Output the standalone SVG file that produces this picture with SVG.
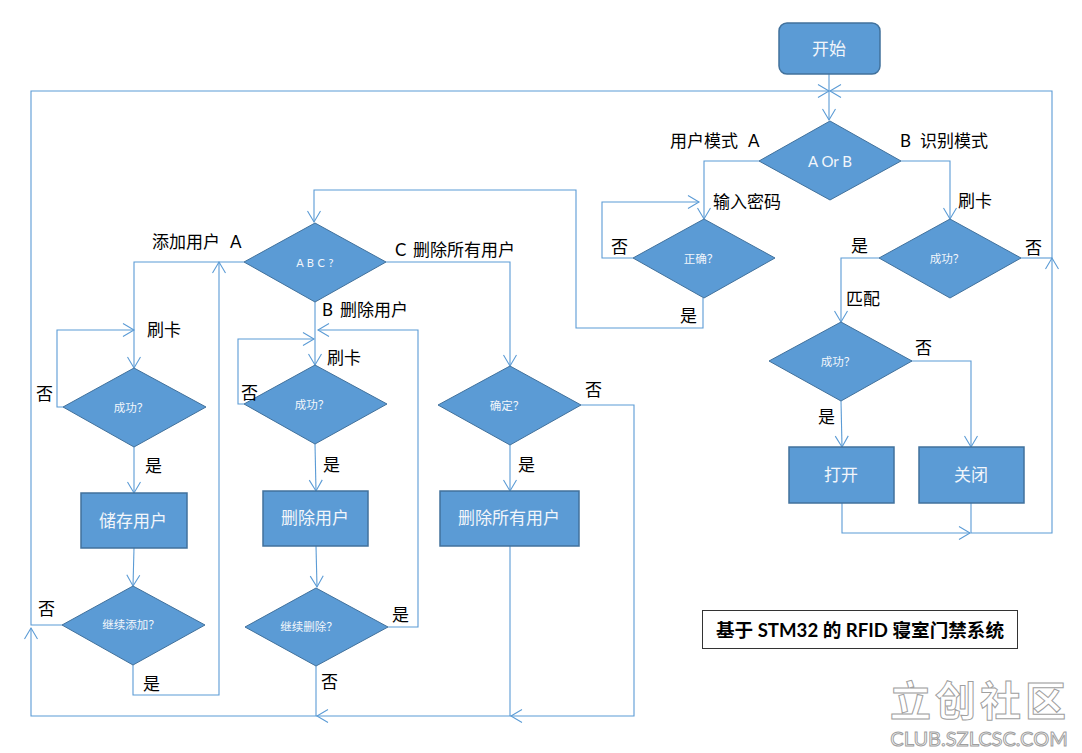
<svg xmlns="http://www.w3.org/2000/svg" width="1082" height="753" viewBox="0 0 1082 753">
<style>
text{font-family:"Lato","Noto Sans CJK SC",sans-serif}
.s{fill:#5B9BD5;stroke:#41719C;stroke-width:1.5}
.n{fill:#5B9BD5;stroke:#41719C;stroke-width:1}
.w{fill:#f2f6fb;text-anchor:middle}
.t11{font-size:11px}.t12{font-size:11.500px}.t15{font-size:15px}.t17{font-size:17px}
.c{fill:none;stroke:#5B9BD5;stroke-width:1.1}
.a{marker-end:url(#ah)}
.l{font-size:17px;fill:#000}
.wm{fill:#fff;stroke:#a0a0a0;stroke-width:1;text-anchor:middle}
</style>
<defs>
<marker id="ah" markerUnits="userSpaceOnUse" markerWidth="16" markerHeight="16" refX="13" refY="8" orient="auto" overflow="visible">
<path d="M2,1.5L13,8L2,14.5" fill="none" stroke="#5B9BD5" stroke-width="1.1"/>
</marker>
</defs>
<rect width="1082" height="753" fill="#fff"/>
<g id="connectors">
<path class="c a" d="M829,74V120"/>
<path class="c a" d="M62,625H31V91H829"/>
<path class="c a" d="M1052,258V91H830"/>
<path class="c a" d="M759,161H704V219"/>
<path class="c a" d="M633,258H602V202H699"/>
<path class="c a" d="M703,298V328H576V190H314V222"/>
<path class="c a" d="M901,161H950V219"/>
<path class="c a" d="M879,258H841V322"/>
<path class="c" d="M1021,258H1052"/>
<path class="c a" d="M911,361H971V447"/>
<path class="c a" d="M841,401L842,447"/>
<path class="c a" d="M842,503V533H970"/>
<path class="c a" d="M971,503V533H1052V258"/>
<path class="c a" d="M244,262H134V368"/>
<path class="c a" d="M63,407H57V330H134"/>
<path class="c a" d="M134,447V493"/>
<path class="c a" d="M134,548L133,586"/>
<path class="c a" d="M133,665V695H219V262"/>
<path class="c a" d="M315,302V365"/>
<path class="c a" d="M244,404H238V339H314"/>
<path class="c a" d="M315,444L316,491"/>
<path class="c a" d="M316,546L317,587"/>
<path class="c a" d="M388,627H418V330H318"/>
<path class="c" d="M316,666V716"/>
<path class="c a" d="M317,716H31V628"/>
<path class="c a" d="M386,262H510V366"/>
<path class="c a" d="M581,405H634V716H511"/>
<path class="c a" d="M511,716H317"/>
<path class="c a" d="M510,445V491"/>
<path class="c" d="M510,546V716"/>
</g>
<g id="node-start"><rect class="s" x="779" y="23" width="101" height="51" rx="8"/><text class="w t17" x="829" y="55">开始</text></g>
<g id="node-aorb"><polygon class="n" points="759,161 830,121 901,161 830,200"/><text class="w t15" x="830" y="167">A Or B</text></g>
<g id="node-pwd"><polygon class="n" points="633,258 704,219 775,258 704,298"/><text class="w t12" x="701" y="263">正确？</text></g>
<g id="node-card-id"><polygon class="n" points="879,258 950,219 1021,258 950,298"/><text class="w t12" x="947" y="263">成功？</text></g>
<g id="node-match"><polygon class="n" points="769,361 841,322 912,361 841,401"/><text class="w t12" x="838" y="366">成功？</text></g>
<g id="node-open"><rect class="s" x="789" y="447" width="105" height="56"/><text class="w t17" x="841" y="481">打开</text></g>
<g id="node-close"><rect class="s" x="919" y="447" width="105" height="56"/><text class="w t17" x="971" y="481">关闭</text></g>
<g id="node-abc"><polygon class="n" points="244,262 315,223 386,262 315,302"/><text class="w t11" x="315" y="267" letter-spacing=".4">A B C ?</text></g>
<g id="node-add-card"><polygon class="n" points="63,407 134,368 206,407 134,447"/><text class="w t12" x="131" y="412">成功？</text></g>
<g id="node-save"><rect class="s" x="81" y="493" width="106" height="55"/><text class="w t17" x="133" y="527">储存用户</text></g>
<g id="node-add-more"><polygon class="n" points="62,625 133,586 205,625 133,665"/><text class="w t12" x="131" y="629">继续添加？</text></g>
<g id="node-del-card"><polygon class="n" points="244,404 315,365 387,404 315,444"/><text class="w t12" x="312" y="409">成功？</text></g>
<g id="node-del"><rect class="s" x="263" y="491" width="105" height="55"/><text class="w t17" x="315" y="524">删除用户</text></g>
<g id="node-del-more"><polygon class="n" points="245,627 316,588 388,627 316,666"/><text class="w t12" x="309" y="631">继续删除？</text></g>
<g id="node-confirm"><polygon class="n" points="438,405 510,366 581,405 510,445"/><text class="w t12" x="507" y="410">确定？</text></g>
<g id="node-delall"><rect class="s" x="440" y="491" width="139" height="55"/><text class="w t17" x="509" y="524">删除所有用户</text></g>
<g id="labels">
<text class="l" x="670" y="147">用户模式<tspan x="748">A</tspan></text>
<text class="l" x="900" y="147">B<tspan x="920">识别模式</tspan></text>
<text class="l" x="713" y="208">输入密码</text>
<text class="l" x="958" y="207">刷卡</text>
<text class="l" x="611" y="253">否</text>
<text class="l" x="1025" y="254">否</text>
<text class="l" x="851" y="252">是</text>
<text class="l" x="846" y="305">匹配</text>
<text class="l" x="915" y="354">否</text>
<text class="l" x="818" y="423">是</text>
<text class="l" x="680" y="322">是</text>
<text class="l" x="152" y="248">添加用户<tspan x="230">A</tspan></text>
<text class="l" x="395" y="256">C<tspan x="413">删除所有用户</tspan></text>
<text class="l" x="322" y="316">B<tspan x="340">删除用户</tspan></text>
<text class="l" x="147" y="336">刷卡</text>
<text class="l" x="327" y="364">刷卡</text>
<text class="l" x="36" y="400">否</text>
<text class="l" x="241" y="399">否</text>
<text class="l" x="585" y="396">否</text>
<text class="l" x="145" y="472">是</text>
<text class="l" x="323" y="471">是</text>
<text class="l" x="518" y="471">是</text>
<text class="l" x="38" y="615">否</text>
<text class="l" x="143" y="690">是</text>
<text class="l" x="392" y="621">是</text>
<text class="l" x="321" y="688">否</text>
</g>
<g id="node-title"><rect x="702.500" y="610.500" width="315" height="38" fill="#fff" stroke="#333" stroke-width="1"/><text x="860" y="637" text-anchor="middle" font-size="18.600" font-weight="700" fill="#000">基于 STM32 的 RFID 寝室门禁系统</text></g>
<g id="watermark">
<text class="wm" x="980" y="716" font-size="41" font-weight="700" letter-spacing="4">立创社区</text>
<text class="wm" x="979" y="746" font-size="20">CLUB.SZLCSC.COM</text>
</g>
</svg>
